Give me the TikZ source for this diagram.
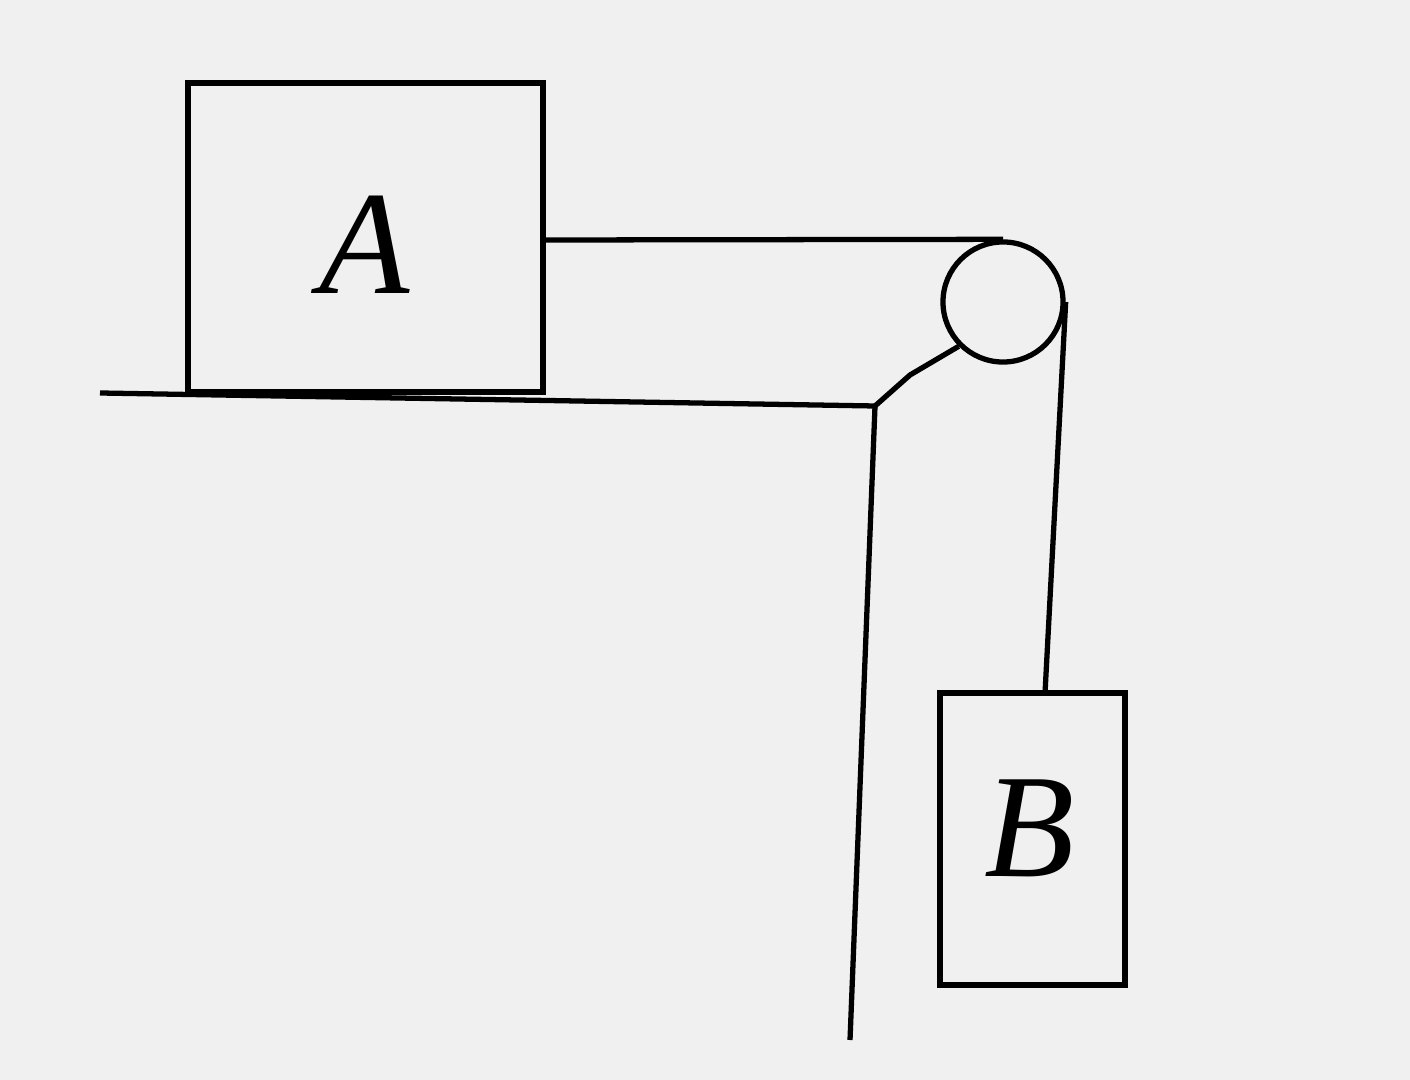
\documentclass[tikz,border=0pt]{standalone}
\usepackage{fontspec}
\setmainfont{Liberation Serif}
\begin{document}
\begin{tikzpicture}[x=0.01cm,y=-0.01cm,line width=1.5pt,
  lbl/.style={font=\fontsize{42}{42}\selectfont\itshape},
  blk/.style={draw,line width=1.7pt,inner sep=0}]
\fill[gray!12] (0,0) rectangle (1410,1080);
\useasboundingbox (0,0) rectangle (1410,1080);
\node[blk,minimum width=3.55cm,minimum height=3.09cm] (A) at (365.5,237.5) {};
\node[lbl] (la) at (365,245) {A};
\coordinate (t0) at (100,393);
\coordinate (tc) at (875,406);
\coordinate (tb) at (850,1040);
\draw (t0) -- (tc) -- (tb);
\node[draw,circle,minimum size=1.2cm,inner sep=0,line width=1.5pt] (P) at (1003,302) {};
\draw (tc) -- (910,375) -- (P.south west);
\draw (A.east |- 0,240) -- (P.north);
\draw (P.east) -- (1045,693);
\node[blk,minimum width=1.85cm,minimum height=2.92cm] (B) at (1032.5,839) {};
\node[lbl] (lb) at (1030,828) {B};
\end{tikzpicture}
\end{document}
